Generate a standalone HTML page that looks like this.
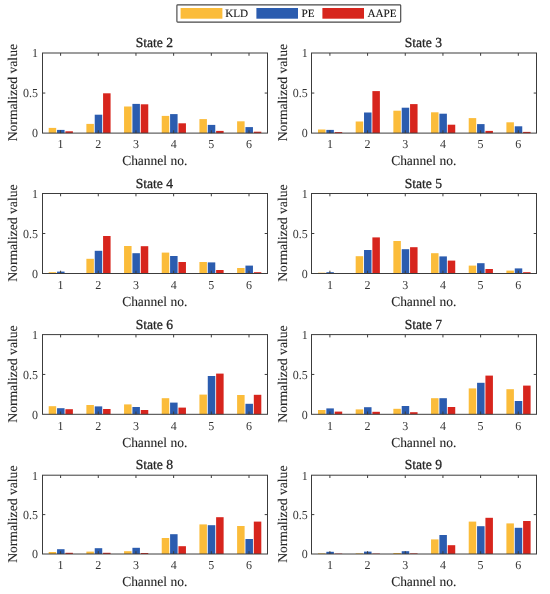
<!DOCTYPE html>
<html><head><meta charset="utf-8"><title>Normalized value per channel</title>
<style>
html,body{margin:0;padding:0;background:#fff;}
svg{display:block;}
text{text-rendering:geometricPrecision;font-family:"Liberation Serif","Times New Roman",serif;fill:#262626;stroke:#262626;stroke-width:0.1px;}
.tk{font-size:12.25px;stroke:none;fill:#333;}
.lb{font-size:13.65px;}
.xl{font-size:13.75px;}
.tt{font-size:13.85px;stroke-width:0.3px;}
.lg{font-size:11.2px;fill:#111;}
</style></head><body>
<svg width="550" height="594" viewBox="0 0 550 594">
<rect x="0" y="0" width="550" height="594" fill="#ffffff"/>

<rect x="176.9" y="4.8" width="223.8" height="17.3" rx="0.8" fill="#fff" stroke="#484848" stroke-width="1.15"/>
<rect x="180.6" y="8" width="41.8" height="10.7" fill="#FBBC3A"/>
<text class="lg" x="225.2" y="17">KLD</text>
<rect x="256.4" y="8" width="41.6" height="10.7" fill="#2B5CAF"/>
<text class="lg" x="301.6" y="17">PE</text>
<rect x="322.4" y="8" width="41.6" height="10.7" fill="#D7251D"/>
<text class="lg" x="367.4" y="17">AAPE</text>
<g>
<rect x="48.70" y="127.90" width="7.5" height="5.20" fill="#FBBC3A"/>
<rect x="57.05" y="129.90" width="7.5" height="3.20" fill="#2B5CAF"/>
<rect x="65.40" y="131.30" width="7.5" height="1.80" fill="#D7251D"/>
<rect x="86.38" y="123.90" width="7.5" height="9.20" fill="#FBBC3A"/>
<rect x="94.73" y="114.70" width="7.5" height="18.40" fill="#2B5CAF"/>
<rect x="103.08" y="93.30" width="7.5" height="39.80" fill="#D7251D"/>
<rect x="124.06" y="106.50" width="7.5" height="26.60" fill="#FBBC3A"/>
<rect x="132.41" y="103.90" width="7.5" height="29.20" fill="#2B5CAF"/>
<rect x="140.76" y="104.30" width="7.5" height="28.80" fill="#D7251D"/>
<rect x="161.74" y="115.90" width="7.5" height="17.20" fill="#FBBC3A"/>
<rect x="170.09" y="114.10" width="7.5" height="19.00" fill="#2B5CAF"/>
<rect x="178.44" y="123.30" width="7.5" height="9.80" fill="#D7251D"/>
<rect x="199.42" y="119.10" width="7.5" height="14.00" fill="#FBBC3A"/>
<rect x="207.77" y="124.90" width="7.5" height="8.20" fill="#2B5CAF"/>
<rect x="216.12" y="130.90" width="7.5" height="2.20" fill="#D7251D"/>
<rect x="237.10" y="121.30" width="7.5" height="11.80" fill="#FBBC3A"/>
<rect x="245.45" y="127.10" width="7.5" height="6.00" fill="#2B5CAF"/>
<rect x="253.80" y="131.70" width="7.5" height="1.40" fill="#D7251D"/>
<rect x="42.5" y="53.0" width="225.0" height="80.10" fill="none" stroke="#3c3c3c" stroke-width="1"/>
<path d="M60.60 133.1v-2.8M60.60 53.0v2.8M98.28 133.1v-2.8M98.28 53.0v2.8M135.96 133.1v-2.8M135.96 53.0v2.8M173.64 133.1v-2.8M173.64 53.0v2.8M211.32 133.1v-2.8M211.32 53.0v2.8M249.00 133.1v-2.8M249.00 53.0v2.8M42.5 93.05h2.8M267.5 93.05h-2.8" stroke="#3c3c3c" stroke-width="1" fill="none"/>
<text class="tk" transform="translate(60.60 148.00) scale(0.98 1)" text-anchor="middle">1</text>
<text class="tk" transform="translate(98.28 148.00) scale(0.98 1)" text-anchor="middle">2</text>
<text class="tk" transform="translate(135.96 148.00) scale(0.98 1)" text-anchor="middle">3</text>
<text class="tk" transform="translate(173.64 148.00) scale(0.98 1)" text-anchor="middle">4</text>
<text class="tk" transform="translate(211.32 148.00) scale(0.98 1)" text-anchor="middle">5</text>
<text class="tk" transform="translate(249.00 148.00) scale(0.98 1)" text-anchor="middle">6</text>
<text class="tk" transform="translate(38.10 137.10) scale(0.98 1)" text-anchor="end">0</text>
<text class="tk" transform="translate(38.10 97.05) scale(0.98 1)" text-anchor="end">0.5</text>
<text class="tk" transform="translate(38.10 57.00) scale(0.98 1)" text-anchor="end">1</text>
<text class="tt" transform="translate(154.40 47.10) scale(0.98 1)" text-anchor="middle">State 2</text>
<text class="xl" transform="translate(154.70 165.20) scale(0.98 1)" text-anchor="middle">Channel no.</text>
<text class="lb" transform="translate(17.00 92.65) rotate(-90) scale(1 0.98)" text-anchor="middle">Normalized value</text>
</g>
<g>
<rect x="318.00" y="129.50" width="7.5" height="3.60" fill="#FBBC3A"/>
<rect x="326.35" y="129.90" width="7.5" height="3.20" fill="#2B5CAF"/>
<rect x="334.70" y="132.10" width="7.5" height="1.00" fill="#D7251D"/>
<rect x="355.68" y="121.50" width="7.5" height="11.60" fill="#FBBC3A"/>
<rect x="364.03" y="112.50" width="7.5" height="20.60" fill="#2B5CAF"/>
<rect x="372.38" y="91.10" width="7.5" height="42.00" fill="#D7251D"/>
<rect x="393.36" y="110.70" width="7.5" height="22.40" fill="#FBBC3A"/>
<rect x="401.71" y="107.70" width="7.5" height="25.40" fill="#2B5CAF"/>
<rect x="410.06" y="104.10" width="7.5" height="29.00" fill="#D7251D"/>
<rect x="431.04" y="112.30" width="7.5" height="20.80" fill="#FBBC3A"/>
<rect x="439.39" y="113.70" width="7.5" height="19.40" fill="#2B5CAF"/>
<rect x="447.74" y="124.70" width="7.5" height="8.40" fill="#D7251D"/>
<rect x="468.72" y="118.10" width="7.5" height="15.00" fill="#FBBC3A"/>
<rect x="477.07" y="124.10" width="7.5" height="9.00" fill="#2B5CAF"/>
<rect x="485.42" y="130.90" width="7.5" height="2.20" fill="#D7251D"/>
<rect x="506.40" y="122.30" width="7.5" height="10.80" fill="#FBBC3A"/>
<rect x="514.75" y="126.30" width="7.5" height="6.80" fill="#2B5CAF"/>
<rect x="523.10" y="131.90" width="7.5" height="1.20" fill="#D7251D"/>
<rect x="311.5" y="53.0" width="225.0" height="80.10" fill="none" stroke="#3c3c3c" stroke-width="1"/>
<path d="M329.90 133.1v-2.8M329.90 53.0v2.8M367.58 133.1v-2.8M367.58 53.0v2.8M405.26 133.1v-2.8M405.26 53.0v2.8M442.94 133.1v-2.8M442.94 53.0v2.8M480.62 133.1v-2.8M480.62 53.0v2.8M518.30 133.1v-2.8M518.30 53.0v2.8M311.5 93.05h2.8M536.5 93.05h-2.8" stroke="#3c3c3c" stroke-width="1" fill="none"/>
<text class="tk" transform="translate(329.90 148.00) scale(0.98 1)" text-anchor="middle">1</text>
<text class="tk" transform="translate(367.58 148.00) scale(0.98 1)" text-anchor="middle">2</text>
<text class="tk" transform="translate(405.26 148.00) scale(0.98 1)" text-anchor="middle">3</text>
<text class="tk" transform="translate(442.94 148.00) scale(0.98 1)" text-anchor="middle">4</text>
<text class="tk" transform="translate(480.62 148.00) scale(0.98 1)" text-anchor="middle">5</text>
<text class="tk" transform="translate(518.30 148.00) scale(0.98 1)" text-anchor="middle">6</text>
<text class="tk" transform="translate(307.80 137.10) scale(0.98 1)" text-anchor="end">0</text>
<text class="tk" transform="translate(307.80 97.05) scale(0.98 1)" text-anchor="end">0.5</text>
<text class="tk" transform="translate(307.80 57.00) scale(0.98 1)" text-anchor="end">1</text>
<text class="tt" transform="translate(423.40 47.10) scale(0.98 1)" text-anchor="middle">State 3</text>
<text class="xl" transform="translate(423.70 165.20) scale(0.98 1)" text-anchor="middle">Channel no.</text>
<text class="lb" transform="translate(286.70 92.65) rotate(-90) scale(1 0.98)" text-anchor="middle">Normalized value</text>
</g>
<g>
<rect x="48.70" y="272.20" width="7.5" height="1.30" fill="#FBBC3A"/>
<rect x="57.05" y="271.60" width="7.5" height="1.90" fill="#2B5CAF"/>
<rect x="65.40" y="273.00" width="7.5" height="0.50" fill="#D7251D"/>
<rect x="86.38" y="258.80" width="7.5" height="14.70" fill="#FBBC3A"/>
<rect x="94.73" y="250.80" width="7.5" height="22.70" fill="#2B5CAF"/>
<rect x="103.08" y="236.00" width="7.5" height="37.50" fill="#D7251D"/>
<rect x="124.06" y="246.00" width="7.5" height="27.50" fill="#FBBC3A"/>
<rect x="132.41" y="253.20" width="7.5" height="20.30" fill="#2B5CAF"/>
<rect x="140.76" y="246.20" width="7.5" height="27.30" fill="#D7251D"/>
<rect x="161.74" y="252.60" width="7.5" height="20.90" fill="#FBBC3A"/>
<rect x="170.09" y="256.00" width="7.5" height="17.50" fill="#2B5CAF"/>
<rect x="178.44" y="262.00" width="7.5" height="11.50" fill="#D7251D"/>
<rect x="199.42" y="262.00" width="7.5" height="11.50" fill="#FBBC3A"/>
<rect x="207.77" y="262.40" width="7.5" height="11.10" fill="#2B5CAF"/>
<rect x="216.12" y="270.00" width="7.5" height="3.50" fill="#D7251D"/>
<rect x="237.10" y="268.00" width="7.5" height="5.50" fill="#FBBC3A"/>
<rect x="245.45" y="265.60" width="7.5" height="7.90" fill="#2B5CAF"/>
<rect x="253.80" y="272.20" width="7.5" height="1.30" fill="#D7251D"/>
<rect x="42.5" y="193.5" width="225.0" height="80.00" fill="none" stroke="#3c3c3c" stroke-width="1"/>
<path d="M60.60 273.5v-2.8M60.60 193.5v2.8M98.28 273.5v-2.8M98.28 193.5v2.8M135.96 273.5v-2.8M135.96 193.5v2.8M173.64 273.5v-2.8M173.64 193.5v2.8M211.32 273.5v-2.8M211.32 193.5v2.8M249.00 273.5v-2.8M249.00 193.5v2.8M42.5 233.50h2.8M267.5 233.50h-2.8" stroke="#3c3c3c" stroke-width="1" fill="none"/>
<text class="tk" transform="translate(60.60 289.10) scale(0.98 1)" text-anchor="middle">1</text>
<text class="tk" transform="translate(98.28 289.10) scale(0.98 1)" text-anchor="middle">2</text>
<text class="tk" transform="translate(135.96 289.10) scale(0.98 1)" text-anchor="middle">3</text>
<text class="tk" transform="translate(173.64 289.10) scale(0.98 1)" text-anchor="middle">4</text>
<text class="tk" transform="translate(211.32 289.10) scale(0.98 1)" text-anchor="middle">5</text>
<text class="tk" transform="translate(249.00 289.10) scale(0.98 1)" text-anchor="middle">6</text>
<text class="tk" transform="translate(38.10 277.90) scale(0.98 1)" text-anchor="end">0</text>
<text class="tk" transform="translate(38.10 237.90) scale(0.98 1)" text-anchor="end">0.5</text>
<text class="tk" transform="translate(38.10 197.90) scale(0.98 1)" text-anchor="end">1</text>
<text class="tt" transform="translate(154.40 188.00) scale(0.98 1)" text-anchor="middle">State 4</text>
<text class="xl" transform="translate(154.70 305.90) scale(0.98 1)" text-anchor="middle">Channel no.</text>
<text class="lb" transform="translate(17.00 233.10) rotate(-90) scale(1 0.98)" text-anchor="middle">Normalized value</text>
</g>
<g>
<rect x="318.00" y="272.68" width="7.5" height="0.82" fill="#FBBC3A"/>
<rect x="326.35" y="272.20" width="7.5" height="1.30" fill="#2B5CAF"/>
<rect x="334.70" y="273.08" width="7.5" height="0.42" fill="#D7251D"/>
<rect x="355.68" y="256.20" width="7.5" height="17.30" fill="#FBBC3A"/>
<rect x="364.03" y="250.00" width="7.5" height="23.50" fill="#2B5CAF"/>
<rect x="372.38" y="237.40" width="7.5" height="36.10" fill="#D7251D"/>
<rect x="393.36" y="241.00" width="7.5" height="32.50" fill="#FBBC3A"/>
<rect x="401.71" y="249.20" width="7.5" height="24.30" fill="#2B5CAF"/>
<rect x="410.06" y="247.20" width="7.5" height="26.30" fill="#D7251D"/>
<rect x="431.04" y="253.20" width="7.5" height="20.30" fill="#FBBC3A"/>
<rect x="439.39" y="256.40" width="7.5" height="17.10" fill="#2B5CAF"/>
<rect x="447.74" y="260.60" width="7.5" height="12.90" fill="#D7251D"/>
<rect x="468.72" y="265.60" width="7.5" height="7.90" fill="#FBBC3A"/>
<rect x="477.07" y="263.20" width="7.5" height="10.30" fill="#2B5CAF"/>
<rect x="485.42" y="269.00" width="7.5" height="4.50" fill="#D7251D"/>
<rect x="506.40" y="270.60" width="7.5" height="2.90" fill="#FBBC3A"/>
<rect x="514.75" y="268.40" width="7.5" height="5.10" fill="#2B5CAF"/>
<rect x="523.10" y="272.20" width="7.5" height="1.30" fill="#D7251D"/>
<rect x="311.5" y="193.5" width="225.0" height="80.00" fill="none" stroke="#3c3c3c" stroke-width="1"/>
<path d="M329.90 273.5v-2.8M329.90 193.5v2.8M367.58 273.5v-2.8M367.58 193.5v2.8M405.26 273.5v-2.8M405.26 193.5v2.8M442.94 273.5v-2.8M442.94 193.5v2.8M480.62 273.5v-2.8M480.62 193.5v2.8M518.30 273.5v-2.8M518.30 193.5v2.8M311.5 233.50h2.8M536.5 233.50h-2.8" stroke="#3c3c3c" stroke-width="1" fill="none"/>
<text class="tk" transform="translate(329.90 289.10) scale(0.98 1)" text-anchor="middle">1</text>
<text class="tk" transform="translate(367.58 289.10) scale(0.98 1)" text-anchor="middle">2</text>
<text class="tk" transform="translate(405.26 289.10) scale(0.98 1)" text-anchor="middle">3</text>
<text class="tk" transform="translate(442.94 289.10) scale(0.98 1)" text-anchor="middle">4</text>
<text class="tk" transform="translate(480.62 289.10) scale(0.98 1)" text-anchor="middle">5</text>
<text class="tk" transform="translate(518.30 289.10) scale(0.98 1)" text-anchor="middle">6</text>
<text class="tk" transform="translate(307.80 277.90) scale(0.98 1)" text-anchor="end">0</text>
<text class="tk" transform="translate(307.80 237.90) scale(0.98 1)" text-anchor="end">0.5</text>
<text class="tk" transform="translate(307.80 197.90) scale(0.98 1)" text-anchor="end">1</text>
<text class="tt" transform="translate(423.40 188.00) scale(0.98 1)" text-anchor="middle">State 5</text>
<text class="xl" transform="translate(423.70 305.90) scale(0.98 1)" text-anchor="middle">Channel no.</text>
<text class="lb" transform="translate(286.70 233.10) rotate(-90) scale(1 0.98)" text-anchor="middle">Normalized value</text>
</g>
<g>
<rect x="48.70" y="406.20" width="7.5" height="8.10" fill="#FBBC3A"/>
<rect x="57.05" y="408.20" width="7.5" height="6.10" fill="#2B5CAF"/>
<rect x="65.40" y="409.20" width="7.5" height="5.10" fill="#D7251D"/>
<rect x="86.38" y="405.00" width="7.5" height="9.30" fill="#FBBC3A"/>
<rect x="94.73" y="406.40" width="7.5" height="7.90" fill="#2B5CAF"/>
<rect x="103.08" y="409.00" width="7.5" height="5.30" fill="#D7251D"/>
<rect x="124.06" y="404.40" width="7.5" height="9.90" fill="#FBBC3A"/>
<rect x="132.41" y="407.00" width="7.5" height="7.30" fill="#2B5CAF"/>
<rect x="140.76" y="410.00" width="7.5" height="4.30" fill="#D7251D"/>
<rect x="161.74" y="398.20" width="7.5" height="16.10" fill="#FBBC3A"/>
<rect x="170.09" y="402.60" width="7.5" height="11.70" fill="#2B5CAF"/>
<rect x="178.44" y="407.60" width="7.5" height="6.70" fill="#D7251D"/>
<rect x="199.42" y="394.60" width="7.5" height="19.70" fill="#FBBC3A"/>
<rect x="207.77" y="376.00" width="7.5" height="38.30" fill="#2B5CAF"/>
<rect x="216.12" y="373.60" width="7.5" height="40.70" fill="#D7251D"/>
<rect x="237.10" y="395.00" width="7.5" height="19.30" fill="#FBBC3A"/>
<rect x="245.45" y="403.80" width="7.5" height="10.50" fill="#2B5CAF"/>
<rect x="253.80" y="394.80" width="7.5" height="19.50" fill="#D7251D"/>
<rect x="42.5" y="334.6" width="225.0" height="79.70" fill="none" stroke="#3c3c3c" stroke-width="1"/>
<path d="M60.60 414.3v-2.8M60.60 334.6v2.8M98.28 414.3v-2.8M98.28 334.6v2.8M135.96 414.3v-2.8M135.96 334.6v2.8M173.64 414.3v-2.8M173.64 334.6v2.8M211.32 414.3v-2.8M211.32 334.6v2.8M249.00 414.3v-2.8M249.00 334.6v2.8M42.5 374.45h2.8M267.5 374.45h-2.8" stroke="#3c3c3c" stroke-width="1" fill="none"/>
<text class="tk" transform="translate(60.60 429.60) scale(0.98 1)" text-anchor="middle">1</text>
<text class="tk" transform="translate(98.28 429.60) scale(0.98 1)" text-anchor="middle">2</text>
<text class="tk" transform="translate(135.96 429.60) scale(0.98 1)" text-anchor="middle">3</text>
<text class="tk" transform="translate(173.64 429.60) scale(0.98 1)" text-anchor="middle">4</text>
<text class="tk" transform="translate(211.32 429.60) scale(0.98 1)" text-anchor="middle">5</text>
<text class="tk" transform="translate(249.00 429.60) scale(0.98 1)" text-anchor="middle">6</text>
<text class="tk" transform="translate(38.10 418.60) scale(0.98 1)" text-anchor="end">0</text>
<text class="tk" transform="translate(38.10 378.75) scale(0.98 1)" text-anchor="end">0.5</text>
<text class="tk" transform="translate(38.10 338.90) scale(0.98 1)" text-anchor="end">1</text>
<text class="tt" transform="translate(154.40 328.90) scale(0.98 1)" text-anchor="middle">State 6</text>
<text class="xl" transform="translate(154.70 447.20) scale(0.98 1)" text-anchor="middle">Channel no.</text>
<text class="lb" transform="translate(17.00 374.05) rotate(-90) scale(1 0.98)" text-anchor="middle">Normalized value</text>
</g>
<g>
<rect x="318.00" y="410.00" width="7.5" height="4.30" fill="#FBBC3A"/>
<rect x="326.35" y="408.40" width="7.5" height="5.90" fill="#2B5CAF"/>
<rect x="334.70" y="411.60" width="7.5" height="2.70" fill="#D7251D"/>
<rect x="355.68" y="409.40" width="7.5" height="4.90" fill="#FBBC3A"/>
<rect x="364.03" y="407.20" width="7.5" height="7.10" fill="#2B5CAF"/>
<rect x="372.38" y="411.80" width="7.5" height="2.50" fill="#D7251D"/>
<rect x="393.36" y="408.80" width="7.5" height="5.50" fill="#FBBC3A"/>
<rect x="401.71" y="406.00" width="7.5" height="8.30" fill="#2B5CAF"/>
<rect x="410.06" y="412.20" width="7.5" height="2.10" fill="#D7251D"/>
<rect x="431.04" y="398.20" width="7.5" height="16.10" fill="#FBBC3A"/>
<rect x="439.39" y="398.20" width="7.5" height="16.10" fill="#2B5CAF"/>
<rect x="447.74" y="407.00" width="7.5" height="7.30" fill="#D7251D"/>
<rect x="468.72" y="388.40" width="7.5" height="25.90" fill="#FBBC3A"/>
<rect x="477.07" y="382.80" width="7.5" height="31.50" fill="#2B5CAF"/>
<rect x="485.42" y="375.60" width="7.5" height="38.70" fill="#D7251D"/>
<rect x="506.40" y="389.20" width="7.5" height="25.10" fill="#FBBC3A"/>
<rect x="514.75" y="401.00" width="7.5" height="13.30" fill="#2B5CAF"/>
<rect x="523.10" y="385.60" width="7.5" height="28.70" fill="#D7251D"/>
<rect x="311.5" y="334.6" width="225.0" height="79.70" fill="none" stroke="#3c3c3c" stroke-width="1"/>
<path d="M329.90 414.3v-2.8M329.90 334.6v2.8M367.58 414.3v-2.8M367.58 334.6v2.8M405.26 414.3v-2.8M405.26 334.6v2.8M442.94 414.3v-2.8M442.94 334.6v2.8M480.62 414.3v-2.8M480.62 334.6v2.8M518.30 414.3v-2.8M518.30 334.6v2.8M311.5 374.45h2.8M536.5 374.45h-2.8" stroke="#3c3c3c" stroke-width="1" fill="none"/>
<text class="tk" transform="translate(329.90 429.60) scale(0.98 1)" text-anchor="middle">1</text>
<text class="tk" transform="translate(367.58 429.60) scale(0.98 1)" text-anchor="middle">2</text>
<text class="tk" transform="translate(405.26 429.60) scale(0.98 1)" text-anchor="middle">3</text>
<text class="tk" transform="translate(442.94 429.60) scale(0.98 1)" text-anchor="middle">4</text>
<text class="tk" transform="translate(480.62 429.60) scale(0.98 1)" text-anchor="middle">5</text>
<text class="tk" transform="translate(518.30 429.60) scale(0.98 1)" text-anchor="middle">6</text>
<text class="tk" transform="translate(307.80 418.60) scale(0.98 1)" text-anchor="end">0</text>
<text class="tk" transform="translate(307.80 378.75) scale(0.98 1)" text-anchor="end">0.5</text>
<text class="tk" transform="translate(307.80 338.90) scale(0.98 1)" text-anchor="end">1</text>
<text class="tt" transform="translate(423.40 328.90) scale(0.98 1)" text-anchor="middle">State 7</text>
<text class="xl" transform="translate(423.70 447.20) scale(0.98 1)" text-anchor="middle">Channel no.</text>
<text class="lb" transform="translate(286.70 374.05) rotate(-90) scale(1 0.98)" text-anchor="middle">Normalized value</text>
</g>
<g>
<rect x="48.70" y="552.00" width="7.5" height="2.00" fill="#FBBC3A"/>
<rect x="57.05" y="549.20" width="7.5" height="4.80" fill="#2B5CAF"/>
<rect x="65.40" y="552.80" width="7.5" height="1.20" fill="#D7251D"/>
<rect x="86.38" y="551.60" width="7.5" height="2.40" fill="#FBBC3A"/>
<rect x="94.73" y="548.20" width="7.5" height="5.80" fill="#2B5CAF"/>
<rect x="103.08" y="552.80" width="7.5" height="1.20" fill="#D7251D"/>
<rect x="124.06" y="551.20" width="7.5" height="2.80" fill="#FBBC3A"/>
<rect x="132.41" y="547.80" width="7.5" height="6.20" fill="#2B5CAF"/>
<rect x="140.76" y="553.00" width="7.5" height="1.00" fill="#D7251D"/>
<rect x="161.74" y="538.00" width="7.5" height="16.00" fill="#FBBC3A"/>
<rect x="170.09" y="534.20" width="7.5" height="19.80" fill="#2B5CAF"/>
<rect x="178.44" y="546.20" width="7.5" height="7.80" fill="#D7251D"/>
<rect x="199.42" y="524.40" width="7.5" height="29.60" fill="#FBBC3A"/>
<rect x="207.77" y="525.20" width="7.5" height="28.80" fill="#2B5CAF"/>
<rect x="216.12" y="517.20" width="7.5" height="36.80" fill="#D7251D"/>
<rect x="237.10" y="526.00" width="7.5" height="28.00" fill="#FBBC3A"/>
<rect x="245.45" y="539.00" width="7.5" height="15.00" fill="#2B5CAF"/>
<rect x="253.80" y="521.60" width="7.5" height="32.40" fill="#D7251D"/>
<rect x="42.5" y="475.2" width="225.0" height="78.80" fill="none" stroke="#3c3c3c" stroke-width="1"/>
<path d="M60.60 554.0v-2.8M60.60 475.2v2.8M98.28 554.0v-2.8M98.28 475.2v2.8M135.96 554.0v-2.8M135.96 475.2v2.8M173.64 554.0v-2.8M173.64 475.2v2.8M211.32 554.0v-2.8M211.32 475.2v2.8M249.00 554.0v-2.8M249.00 475.2v2.8M42.5 514.60h2.8M267.5 514.60h-2.8" stroke="#3c3c3c" stroke-width="1" fill="none"/>
<text class="tk" transform="translate(60.60 568.80) scale(0.98 1)" text-anchor="middle">1</text>
<text class="tk" transform="translate(98.28 568.80) scale(0.98 1)" text-anchor="middle">2</text>
<text class="tk" transform="translate(135.96 568.80) scale(0.98 1)" text-anchor="middle">3</text>
<text class="tk" transform="translate(173.64 568.80) scale(0.98 1)" text-anchor="middle">4</text>
<text class="tk" transform="translate(211.32 568.80) scale(0.98 1)" text-anchor="middle">5</text>
<text class="tk" transform="translate(249.00 568.80) scale(0.98 1)" text-anchor="middle">6</text>
<text class="tk" transform="translate(38.10 558.40) scale(0.98 1)" text-anchor="end">0</text>
<text class="tk" transform="translate(38.10 519.00) scale(0.98 1)" text-anchor="end">0.5</text>
<text class="tk" transform="translate(38.10 479.60) scale(0.98 1)" text-anchor="end">1</text>
<text class="tt" transform="translate(154.40 469.40) scale(0.98 1)" text-anchor="middle">State 8</text>
<text class="xl" transform="translate(154.70 585.90) scale(0.98 1)" text-anchor="middle">Channel no.</text>
<text class="lb" transform="translate(17.00 514.20) rotate(-90) scale(1 0.98)" text-anchor="middle">Normalized value</text>
</g>
<g>
<rect x="318.00" y="553.40" width="7.5" height="0.60" fill="#FBBC3A"/>
<rect x="326.35" y="551.80" width="7.5" height="2.20" fill="#2B5CAF"/>
<rect x="334.70" y="553.60" width="7.5" height="0.40" fill="#D7251D"/>
<rect x="355.68" y="553.40" width="7.5" height="0.60" fill="#FBBC3A"/>
<rect x="364.03" y="551.60" width="7.5" height="2.40" fill="#2B5CAF"/>
<rect x="372.38" y="553.60" width="7.5" height="0.40" fill="#D7251D"/>
<rect x="393.36" y="553.00" width="7.5" height="1.00" fill="#FBBC3A"/>
<rect x="401.71" y="551.20" width="7.5" height="2.80" fill="#2B5CAF"/>
<rect x="410.06" y="553.40" width="7.5" height="0.60" fill="#D7251D"/>
<rect x="431.04" y="539.40" width="7.5" height="14.60" fill="#FBBC3A"/>
<rect x="439.39" y="535.00" width="7.5" height="19.00" fill="#2B5CAF"/>
<rect x="447.74" y="545.20" width="7.5" height="8.80" fill="#D7251D"/>
<rect x="468.72" y="521.60" width="7.5" height="32.40" fill="#FBBC3A"/>
<rect x="477.07" y="526.20" width="7.5" height="27.80" fill="#2B5CAF"/>
<rect x="485.42" y="517.80" width="7.5" height="36.20" fill="#D7251D"/>
<rect x="506.40" y="523.40" width="7.5" height="30.60" fill="#FBBC3A"/>
<rect x="514.75" y="527.80" width="7.5" height="26.20" fill="#2B5CAF"/>
<rect x="523.10" y="521.00" width="7.5" height="33.00" fill="#D7251D"/>
<rect x="311.5" y="475.2" width="225.0" height="78.80" fill="none" stroke="#3c3c3c" stroke-width="1"/>
<path d="M329.90 554.0v-2.8M329.90 475.2v2.8M367.58 554.0v-2.8M367.58 475.2v2.8M405.26 554.0v-2.8M405.26 475.2v2.8M442.94 554.0v-2.8M442.94 475.2v2.8M480.62 554.0v-2.8M480.62 475.2v2.8M518.30 554.0v-2.8M518.30 475.2v2.8M311.5 514.60h2.8M536.5 514.60h-2.8" stroke="#3c3c3c" stroke-width="1" fill="none"/>
<text class="tk" transform="translate(329.90 568.80) scale(0.98 1)" text-anchor="middle">1</text>
<text class="tk" transform="translate(367.58 568.80) scale(0.98 1)" text-anchor="middle">2</text>
<text class="tk" transform="translate(405.26 568.80) scale(0.98 1)" text-anchor="middle">3</text>
<text class="tk" transform="translate(442.94 568.80) scale(0.98 1)" text-anchor="middle">4</text>
<text class="tk" transform="translate(480.62 568.80) scale(0.98 1)" text-anchor="middle">5</text>
<text class="tk" transform="translate(518.30 568.80) scale(0.98 1)" text-anchor="middle">6</text>
<text class="tk" transform="translate(307.80 558.40) scale(0.98 1)" text-anchor="end">0</text>
<text class="tk" transform="translate(307.80 519.00) scale(0.98 1)" text-anchor="end">0.5</text>
<text class="tk" transform="translate(307.80 479.60) scale(0.98 1)" text-anchor="end">1</text>
<text class="tt" transform="translate(423.40 469.40) scale(0.98 1)" text-anchor="middle">State 9</text>
<text class="xl" transform="translate(423.70 585.90) scale(0.98 1)" text-anchor="middle">Channel no.</text>
<text class="lb" transform="translate(286.70 514.20) rotate(-90) scale(1 0.98)" text-anchor="middle">Normalized value</text>
</g>
</svg></body></html>
